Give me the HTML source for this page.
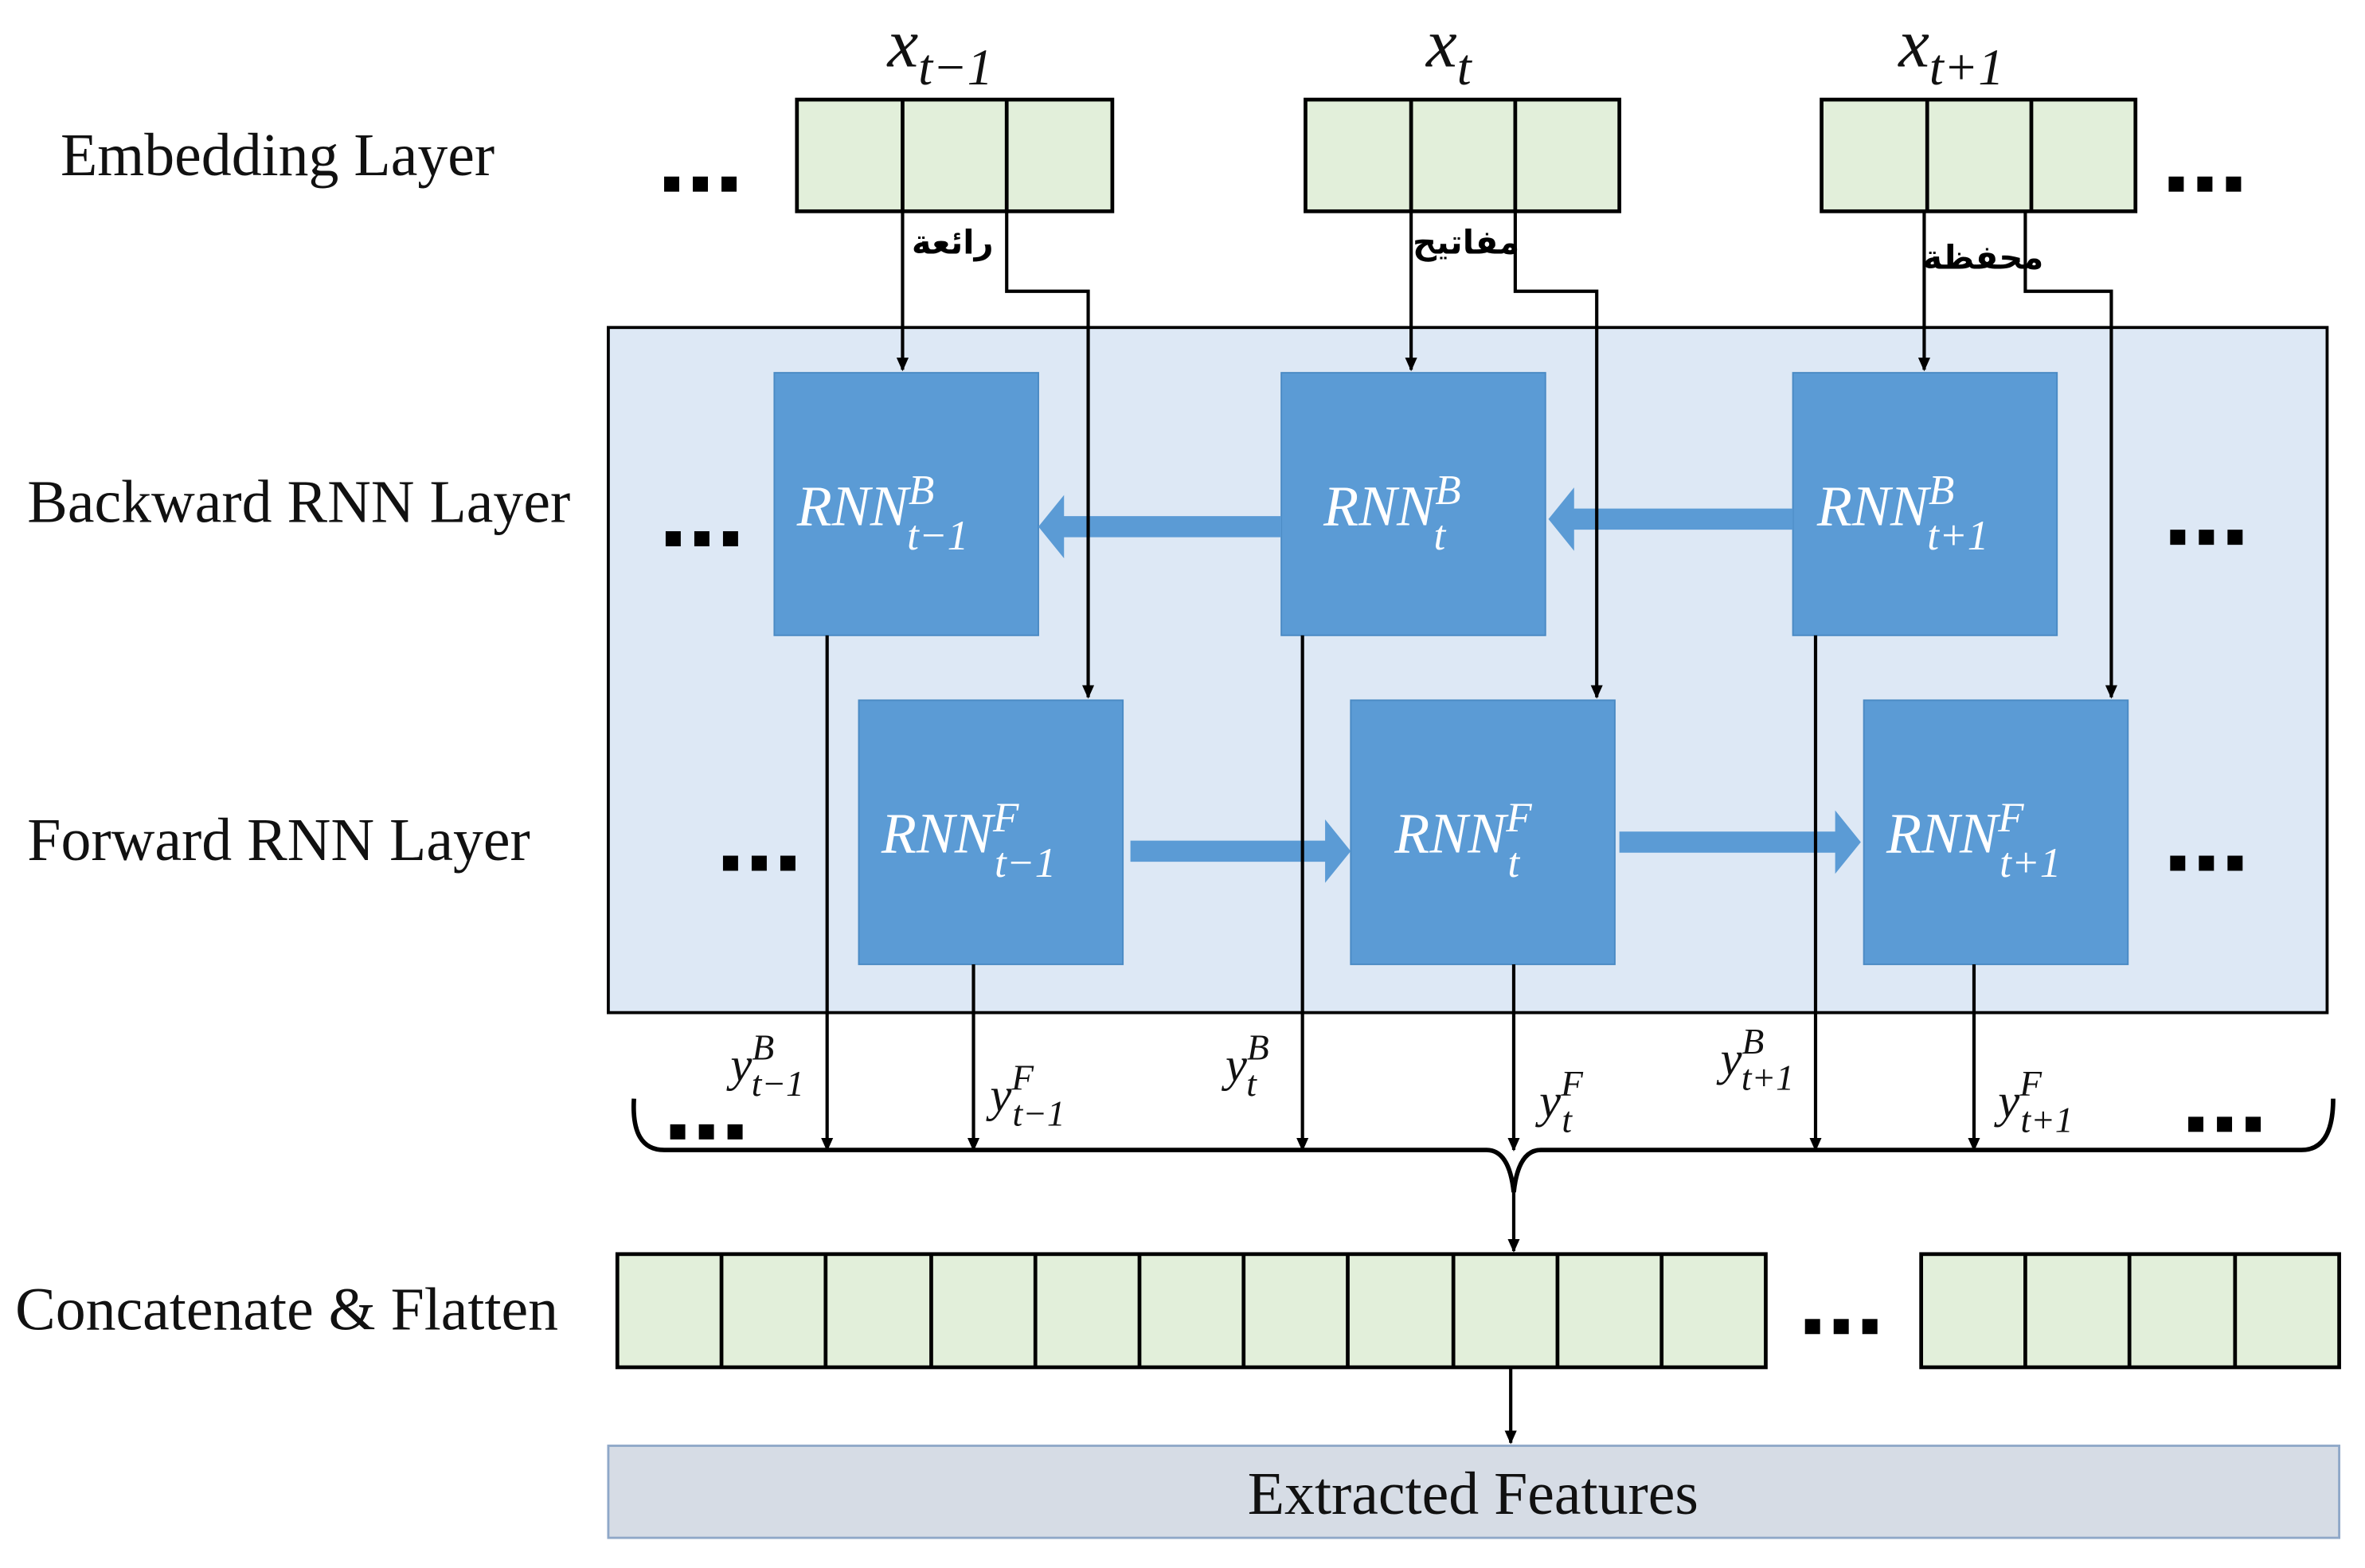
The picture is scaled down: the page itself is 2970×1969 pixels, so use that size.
<!DOCTYPE html>
<html><head><meta charset="utf-8"><style>html,body{margin:0;padding:0;background:#fff}svg{display:block}</style></head><body>
<svg width="2970" height="1969" viewBox="0 0 1567 1039" xmlns="http://www.w3.org/2000/svg">
<defs>
<marker id="a" markerWidth="10" markerHeight="10" refX="8" refY="5" orient="auto" markerUnits="userSpaceOnUse"><path d="M0,1 L9,5 L0,9 z" fill="#000"/></marker>
<g id="d"><rect x="0" y="0" width="10" height="10"/><rect x="19" y="0" width="10" height="10"/><rect x="38" y="0" width="10" height="10"/></g>
</defs>
<g font-family="Liberation Serif, serif" font-size="40" fill="#111">
<text x="40" y="116">Embedding Layer</text>
<text x="18" y="346">Backward RNN Layer</text>
<text x="18" y="570">Forward RNN Layer</text>
<text x="10" y="881">Concatenate &amp; Flatten</text>
</g>
<g font-family="Liberation Serif, serif" font-style="italic" fill="#111">
<text x="588" y="44" font-size="46">x<tspan font-size="34" dy="12">t−1</tspan></text>
<text x="945" y="44" font-size="46">x<tspan font-size="34" dy="12">t</tspan></text>
<text x="1258" y="44" font-size="46">x<tspan font-size="34" dy="12">t+1</tspan></text>
</g>
<g fill="#e2efda" stroke="#000" stroke-width="2.5">
<rect x="528" y="66" width="209" height="74"/><line x1="598" y1="66" x2="598" y2="140"/><line x1="667" y1="66" x2="667" y2="140"/>
<rect x="865" y="66" width="208" height="74"/><line x1="935" y1="66" x2="935" y2="140"/><line x1="1004" y1="66" x2="1004" y2="140"/>
<rect x="1207" y="66" width="208" height="74"/><line x1="1277" y1="66" x2="1277" y2="140"/><line x1="1346" y1="66" x2="1346" y2="140"/>
</g>
<g font-family="DejaVu Sans, sans-serif" font-size="22" font-weight="bold" fill="#000">
<text x="604" y="168">رائعة</text>
<text x="936" y="168">مفاتيح</text>
<text x="1274" y="178">محفظة</text>
</g>
<rect x="403" y="217" width="1139" height="454" fill="#dde8f5" stroke="#000" stroke-width="2"/>
<g fill="#5b9bd5" stroke="#4a8ac4" stroke-width="1">
<rect x="513" y="247" width="175" height="174"/><rect x="849" y="247" width="175" height="174"/><rect x="1188" y="247" width="175" height="174"/>
<rect x="569" y="464" width="175" height="175"/><rect x="895" y="464" width="175" height="175"/><rect x="1235" y="464" width="175" height="175"/>
</g>
<g font-family="Liberation Serif, serif" font-style="italic" fill="#fff" font-size="38">
<text x="528" y="348">RNN<tspan font-size="28" dy="-14">B</tspan><tspan font-size="28" dy="30" dx="-18">t−1</tspan></text>
<text x="877" y="348">RNN<tspan font-size="28" dy="-14">B</tspan><tspan font-size="28" dy="30" dx="-18">t</tspan></text>
<text x="1204" y="348">RNN<tspan font-size="28" dy="-14">B</tspan><tspan font-size="28" dy="30" dx="-18">t+1</tspan></text>
<text x="584" y="565">RNN<tspan font-size="28" dy="-14">F</tspan><tspan font-size="28" dy="30" dx="-16">t−1</tspan></text>
<text x="924" y="565">RNN<tspan font-size="28" dy="-14">F</tspan><tspan font-size="28" dy="30" dx="-16">t</tspan></text>
<text x="1250" y="565">RNN<tspan font-size="28" dy="-14">F</tspan><tspan font-size="28" dy="30" dx="-16">t+1</tspan></text>
</g>
<g fill="#5b9bd5">
<polygon points="849,342 705,342 705,328 688,349 705,370 705,356 849,356"/>
<polygon points="1188,337 1043,337 1043,323 1026,344 1043,365 1043,351 1188,351"/>
<polygon points="749,557 878,557 878,543 895,564 878,585 878,571 749,571"/>
<polygon points="1073,551 1216,551 1216,537 1233,558 1216,579 1216,565 1073,565"/>
</g>
<g stroke="#000" stroke-width="2.2" fill="none" marker-end="url(#a)">
<line x1="598" y1="140" x2="598" y2="245"/>
<polyline points="667,140 667,193 721,193 721,462"/>
<line x1="935" y1="140" x2="935" y2="245"/>
<polyline points="1004,140 1004,193 1058,193 1058,462"/>
<line x1="1275" y1="140" x2="1275" y2="245"/>
<polyline points="1342,140 1342,193 1399,193 1399,462"/>
<line x1="548" y1="421" x2="548" y2="762"/>
<line x1="645" y1="639" x2="645" y2="762"/>
<line x1="863" y1="421" x2="863" y2="762"/>
<line x1="1003" y1="639" x2="1003" y2="762"/>
<line x1="1203" y1="421" x2="1203" y2="762"/>
<line x1="1308" y1="639" x2="1308" y2="762"/>
<line x1="1003" y1="790" x2="1003" y2="829"/>
<line x1="1001" y1="906" x2="1001" y2="956"/>
</g>
<path d="M420,728 Q418,762 440,762 L985,762 Q1000,762 1003,790 Q1006,762 1021,762 L1525,762 Q1546,762 1546,728" fill="none" stroke="#000" stroke-width="3"/>
<g font-family="Liberation Serif, serif" font-style="italic" fill="#111" font-size="32">
<text x="484" y="716">y<tspan font-size="24" dy="-14">B</tspan><tspan font-size="24" dy="24" dx="-15">t−1</tspan></text>
<text x="656" y="736">y<tspan font-size="24" dy="-14">F</tspan><tspan font-size="24" dy="24" dx="-14">t−1</tspan></text>
<text x="812" y="716">y<tspan font-size="24" dy="-14">B</tspan><tspan font-size="24" dy="24" dx="-15">t</tspan></text>
<text x="1020" y="740">y<tspan font-size="24" dy="-14">F</tspan><tspan font-size="24" dy="24" dx="-14">t</tspan></text>
<text x="1140" y="712">y<tspan font-size="24" dy="-14">B</tspan><tspan font-size="24" dy="24" dx="-15">t+1</tspan></text>
<text x="1324" y="740">y<tspan font-size="24" dy="-14">F</tspan><tspan font-size="24" dy="24" dx="-14">t+1</tspan></text>
</g>
<g fill="#000">
<use href="#d" x="440" y="117"/><use href="#d" x="1437" y="117"/>
<use href="#d" x="441" y="352"/><use href="#d" x="1438" y="351"/>
<use href="#d" x="479" y="567"/><use href="#d" x="1438" y="567"/>
<use href="#d" x="444" y="745"/><use href="#d" x="1450" y="740"/>
<use href="#d" x="1196" y="874"/>
</g>
<g fill="#e2efda" stroke="#000" stroke-width="2.5">
<rect x="409" y="831" width="761" height="75"/>
<rect x="1273" y="831" width="277" height="75"/>
<path d="M478,831V906M547,831V906M617,831V906M686,831V906M755,831V906M824,831V906M893,831V906M963,831V906M1032,831V906M1101,831V906M1342,831V906M1411,831V906M1481,831V906"/>
</g>
<rect x="403" y="958" width="1147" height="61" fill="#d6dce5" stroke="#8fa8c8" stroke-width="1.5"/>
<text x="976" y="1003" text-anchor="middle" font-family="Liberation Serif, serif" font-size="40" fill="#111">Extracted Features</text>
</svg>
</body></html>
